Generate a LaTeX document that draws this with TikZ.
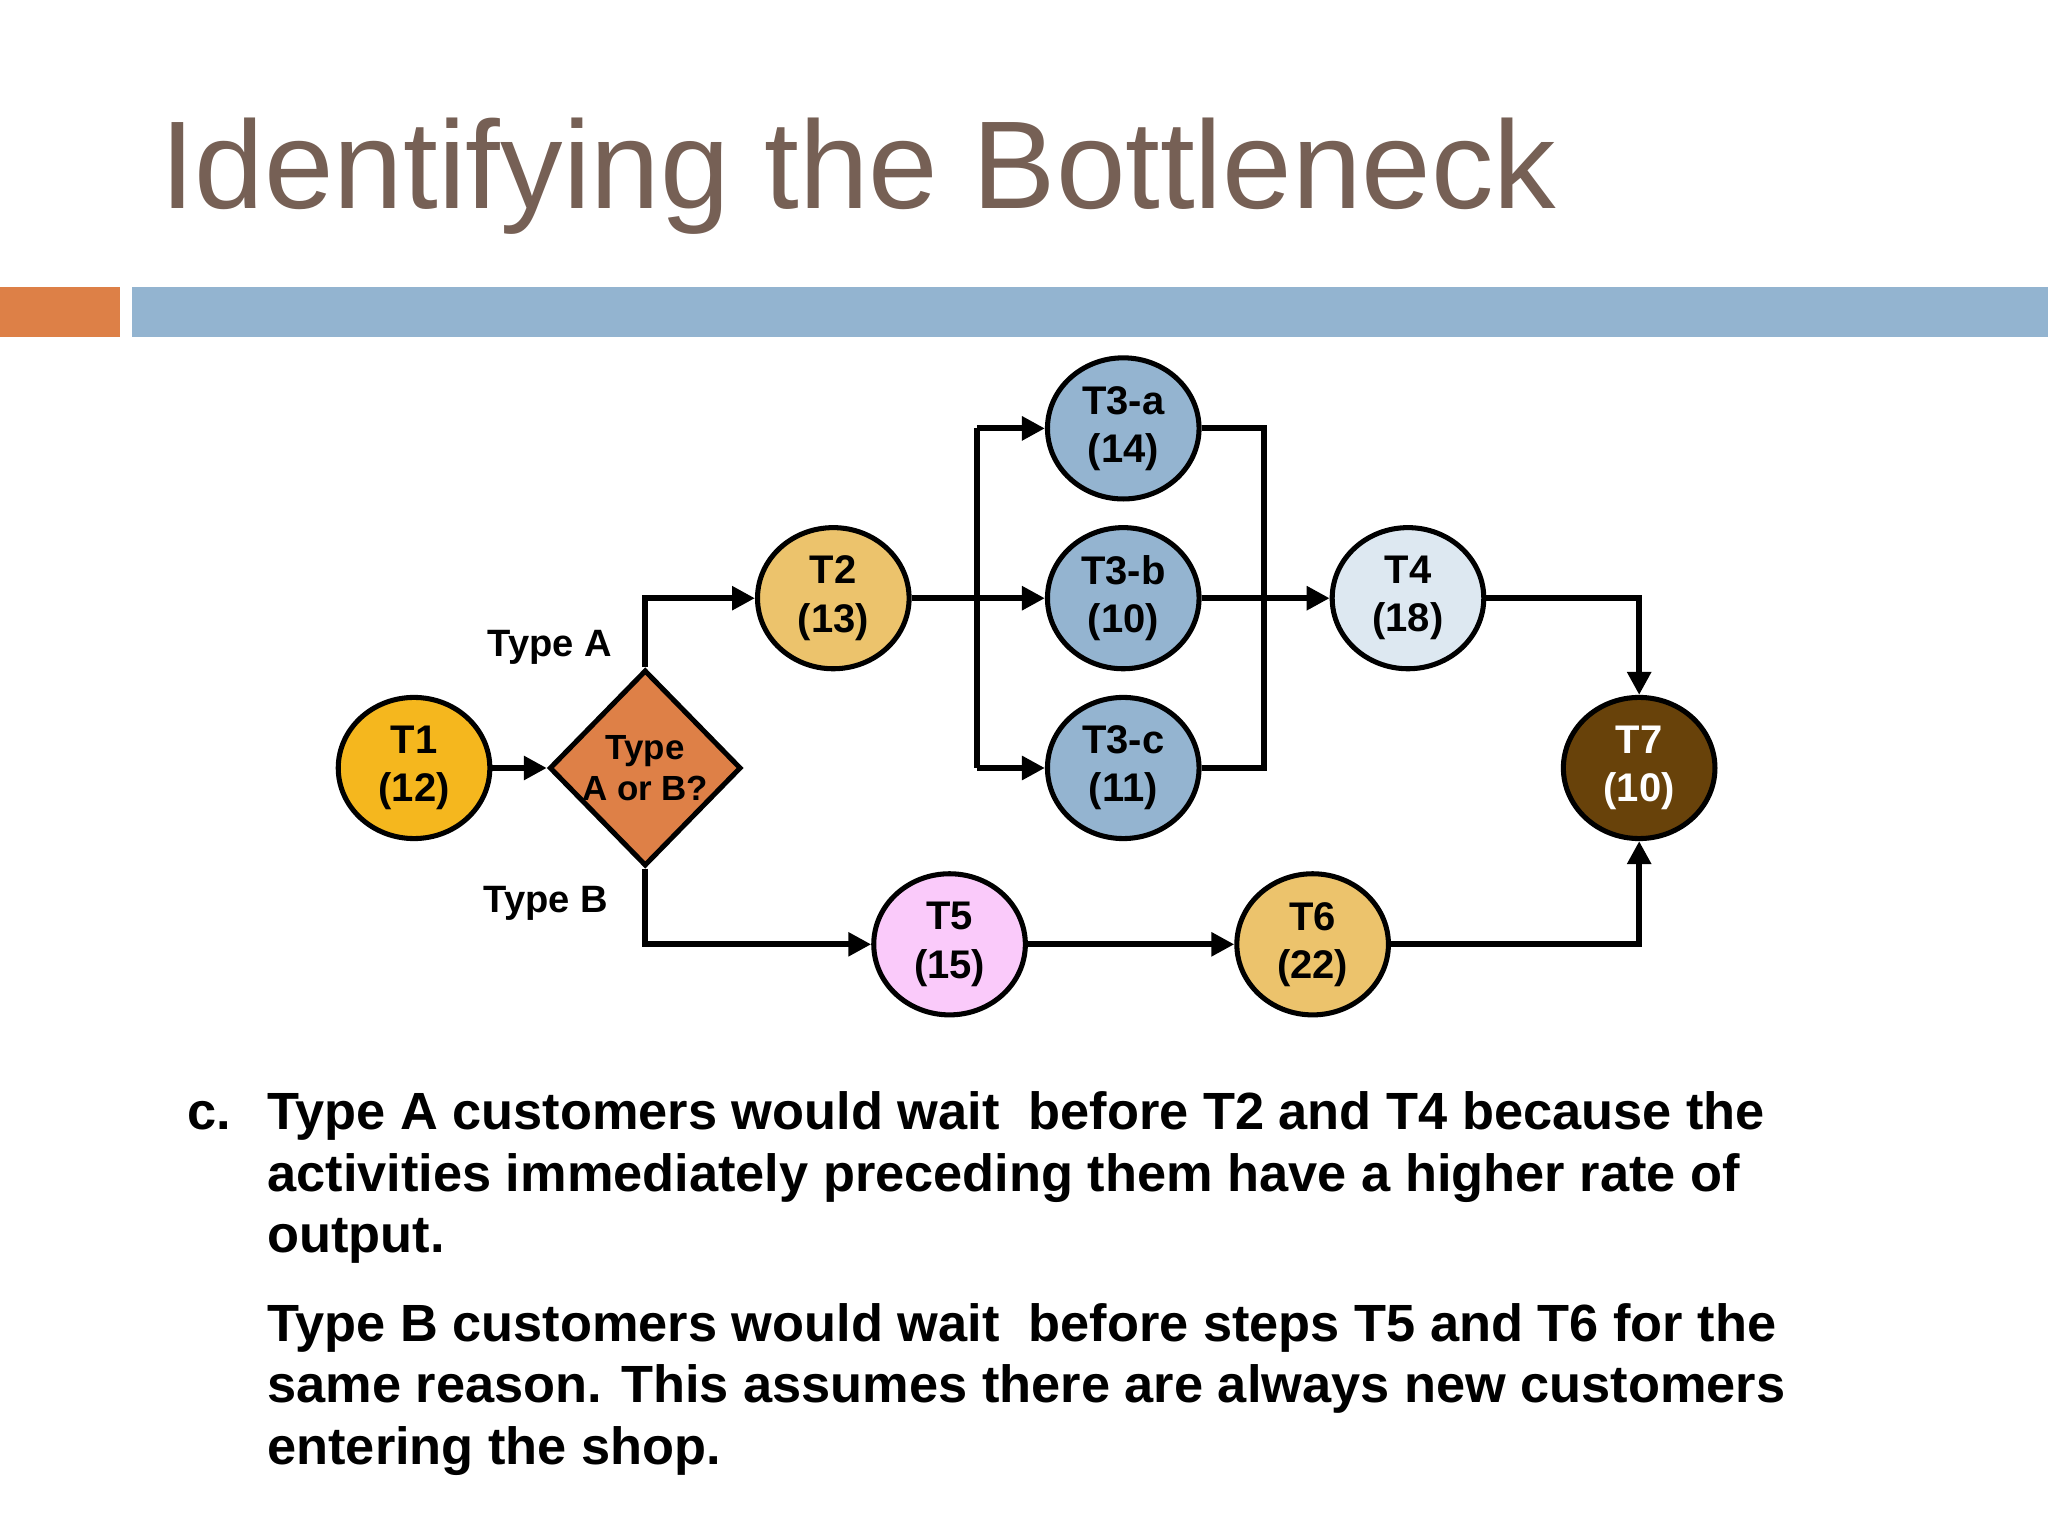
\documentclass[tikz,border=0pt]{standalone}
\usepackage{fontspec}
\setmainfont{Liberation Sans}
\usetikzlibrary{shapes.geometric,arrows.meta}
\definecolor{titlec}{RGB}{118,96,85}
\definecolor{orangebar}{RGB}{221,128,71}
\definecolor{bluebar}{RGB}{147,180,208}
\definecolor{cT1}{RGB}{245,183,30}
\definecolor{cT2}{RGB}{236,195,108}
\definecolor{cT3}{RGB}{148,180,208}
\definecolor{cT4}{RGB}{221,232,241}
\definecolor{cT5}{RGB}{250,202,250}
\definecolor{cT7}{RGB}{104,66,10}
\definecolor{cdia}{RGB}{222,128,71}
\begin{document}
\begin{tikzpicture}[x=0.01cm,y=-0.01cm,
  task/.style={ellipse,draw=black,line width=1.1pt,minimum width=1.16cm,minimum height=1.08cm,inner sep=0pt,align=center,font=\fontsize{8.7}{10.5}\selectfont\bfseries},
  conn/.style={line width=1.3pt},
  arr/.style={conn,-{Triangle[length=5pt,width=5pt]}},
  lbl/.style={font=\fontsize{8.3}{10}\selectfont\bfseries},
  body/.style={anchor=base west,inner sep=0pt,align=left,font=\fontsize{11.4}{13.4}\selectfont\bfseries}]
\useasboundingbox (0,0) rectangle (1568,1176);
\fill[white] (0,0) rectangle (1568,1176);
\node[anchor=base west,inner sep=0pt,text=titlec,font=\fontsize{27.2}{30}\selectfont] (title) at (122,160) {Identifying the Bottleneck};
\fill[orangebar] (0,220) rectangle (92,258);
\fill[bluebar] (101,220) rectangle (1568,258);
% nodes
\node[task,fill=cT1] (t1) at (317,588) {T1\\(12)};
\node[diamond,draw=black,line width=1.1pt,fill=cdia,minimum width=1.46cm,minimum height=1.5cm,inner sep=0pt,align=center,font=\fontsize{7.6}{9}\selectfont\bfseries] (d) at (494,588) {Type\\A or B?};
\node[task,fill=cT2] (t2) at (638,458) {T2\\(13)};
\node[task,fill=cT3] (t3a) at (860,328) {T3-a\\(14)};
\node[task,fill=cT3] (t3b) at (860,458) {T3-b\\(10)};
\node[task,fill=cT3] (t3c) at (860,588) {T3-c\\(11)};
\node[task,fill=cT4] (t4) at (1078,458) {T4\\(18)};
\node[task,fill=cT7,text=white] (t7) at (1255,588) {T7\\(10)};
\node[task,fill=cT5] (t5) at (727,723) {T5\\(15)};
\node[task,fill=cT2] (t6) at (1005,723) {T6\\(22)};
% labels
\node[lbl] (la) at (421,496) {Type A};
\node[lbl] (lb) at (418,692) {Type B};
% connectors
\draw[arr] (t1) -- (d);
\draw[arr] (d.north) |- (t2.west);
\draw[arr] (d.south) |- (t5.west);
\draw[arr] (t2.east) -- (t3b.west);
\draw[conn] (748,328) -- (748,588);
\draw[arr] (748,328) -- (t3a.west);
\draw[arr] (748,588) -- (t3c.west);
\draw[conn] (t3a.east) -| (968,588) -- (t3c.east);
\draw[arr] (t3b.east) -- (t4.west);
\draw[arr] (t4.east) -| (t7.north);
\draw[arr] (t5) -- (t6);
\draw[arr] (t6.east) -| (t7.south);
% text
\node[body] (c) at (143,865) {c.};
\node[body] (p1) at (204,959) {Type A customers would wait\ \ before T2 and T4 because the\\activities immediately preceding them have a higher rate of\\output.};
\node[body] (p2) at (204,1121) {Type B customers would wait\ \ before steps T5 and T6 for the\\same reason. This assumes there are always new customers\\entering the shop.};
\end{tikzpicture}
\end{document}
